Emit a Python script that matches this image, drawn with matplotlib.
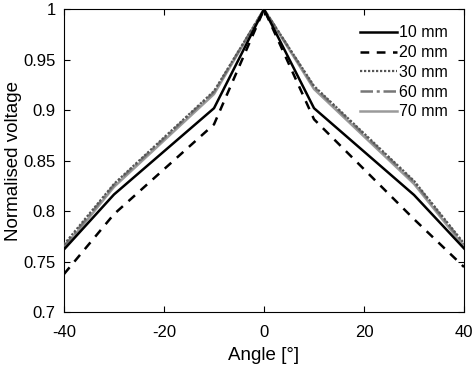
import matplotlib
matplotlib.use("Agg")
import matplotlib.pyplot as plt

plt.rcParams['font.family'] = ['Liberation Sans', 'DejaVu Sans']
plt.rcParams['axes.unicode_minus'] = False

# angles in degrees
angle = [-40, -30, -10, 0, 10, 30, 40]

# normalised voltage for each distance
v_10mm = [0.762, 0.8165, 0.902, 1.0, 0.902, 0.816, 0.763]
v_20mm = [0.7376, 0.797, 0.886, 1.0, 0.891, 0.792, 0.7446]
v_30mm = [0.767, 0.827, 0.919, 1.0, 0.924, 0.830, 0.768]
v_60mm = [0.765, 0.826, 0.918, 1.0, 0.923, 0.829, 0.767]
v_70mm = [0.763, 0.824, 0.916, 1.0, 0.921, 0.827, 0.765]

labels = ['10 mm', '20 mm', '30 mm', '60 mm', '70 mm']

fig = plt.figure(figsize=(4.74, 3.66), dpi=100)
ax = fig.add_axes([0.135, 0.1475, 0.844, 0.827])

ax.plot(angle, v_70mm, color='#9a9a9a', lw=1.8, ls='-', label=labels[4], zorder=2)
ax.plot(angle, v_60mm, color='#777777', lw=1.8, ls=(0, (5, 1.5, 1.2, 1.5)), label=labels[3], zorder=3)
ax.plot(angle, v_30mm, color='#555555', lw=1.6, ls=(0, (1, 0.8)), label=labels[2], zorder=4)
ax.plot(angle, v_20mm, color='black', lw=1.8, ls=(0, (3.5, 3)), label=labels[1], zorder=5)
ax.plot(angle, v_10mm, color='black', lw=1.8, ls='-', label=labels[0], zorder=6)

ax.set_xlim(-40, 40)
ax.set_ylim(0.7, 1.0)
ax.set_xticks([-40, -20, 0, 20, 40])
ax.set_yticks([0.7, 0.75, 0.8, 0.85, 0.9, 0.95, 1.0])
ax.set_yticklabels(['0.7', '0.75', '0.8', '0.85', '0.9', '0.95', '1'])
ax.tick_params(direction='in', top=True, right=True, labelsize=12, length=4)
ax.tick_params(axis='x', pad=9)
ax.tick_params(axis='y', pad=6)
ax.set_xlabel('Angle [°]', fontsize=13.5)
ax.set_ylabel('Normalised voltage', fontsize=13.5)
ax.xaxis.set_label_coords(0.5, -0.115)
ax.yaxis.set_label_coords(-0.106, 0.5)

handles, labs = ax.get_legend_handles_labels()
order = [4, 3, 2, 1, 0]
ax.legend([handles[i] for i in order], [labs[i] for i in order],
          loc='upper right', frameon=False, fontsize=11.5, handlelength=2.3,
          handletextpad=0.15, labelspacing=0.3, borderaxespad=0.6)

fig.savefig('out.png', dpi=100)
